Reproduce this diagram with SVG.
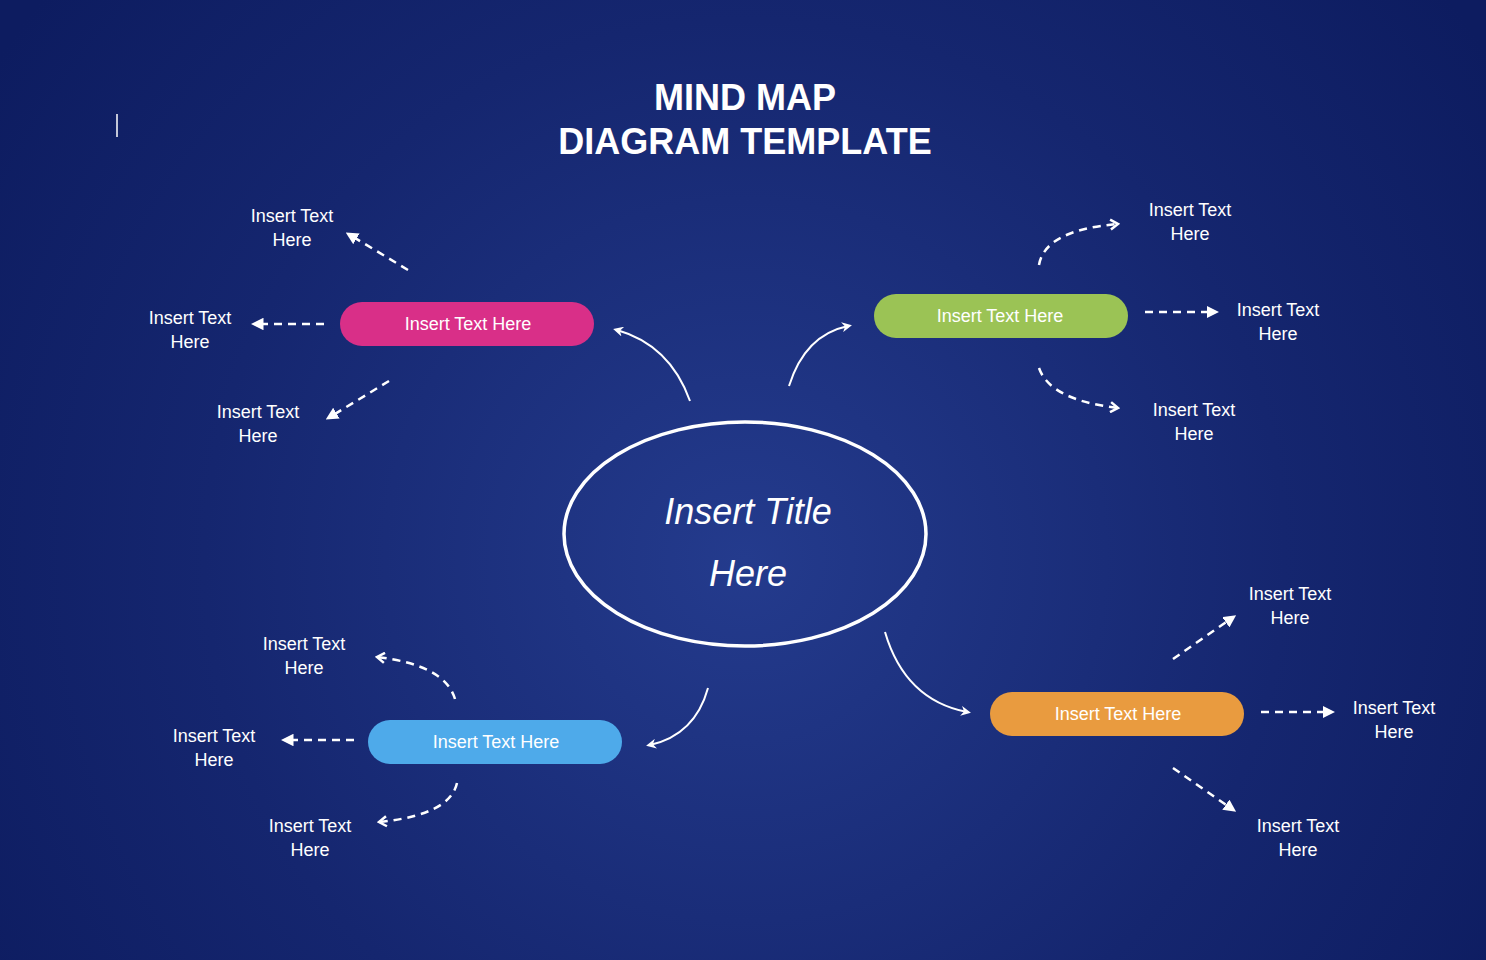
<svg xmlns="http://www.w3.org/2000/svg" width="1486" height="960" viewBox="0 0 1486 960">
<defs>
<radialGradient id="bg" cx="745" cy="560" r="900" gradientUnits="userSpaceOnUse">
<stop offset="0" stop-color="#243b8d"/><stop offset="0.6" stop-color="#15266f"/><stop offset="1" stop-color="#0d1c60"/>
</radialGradient>
<marker id="tri" viewBox="0 0 10 10" refX="6" refY="5" markerWidth="5" markerHeight="5" orient="auto" markerUnits="strokeWidth"><path d="M0,0 L10,5 L0,10 z" fill="#fff"/></marker>
<marker id="chev" viewBox="0 0 10 10" refX="8" refY="5" markerWidth="5" markerHeight="5" orient="auto" markerUnits="strokeWidth"><path d="M2,1 L8,5 L2,9" fill="none" stroke="#fff" stroke-width="2"/></marker>
<marker id="big" viewBox="0 0 10 10" refX="6" refY="5" markerWidth="5" markerHeight="5" orient="auto" markerUnits="strokeWidth"><path d="M0,0 L10,5 L0,10 L3,5 z" fill="#fff"/></marker>
</defs>
<style>
.t{font-family:"Liberation Sans",Arial,sans-serif;fill:#fff;text-anchor:middle}
.leaf{font-size:18px}
.pill{font-size:18px}
.d{fill:none;stroke:#fff;stroke-width:2.5;stroke-dasharray:8 6}
.m{fill:none;stroke:#fff;stroke-width:2}
</style>
<rect width="1486" height="960" fill="url(#bg)"/>
<line x1="117" y1="114" x2="117" y2="137" stroke="#fff" stroke-width="1.5"/>
<text class="t" x="745" y="110" font-size="36" font-weight="bold">MIND MAP</text>
<text class="t" x="745" y="154" font-size="36" font-weight="bold">DIAGRAM TEMPLATE</text>
<g id="center">
<ellipse cx="745" cy="534" rx="181" ry="112" fill="none" stroke="#fff" stroke-width="3.5"/>
<text class="t" x="748" y="524" font-size="36" font-style="italic" font-family="'DejaVu Sans',sans-serif">Insert  Title</text>
<text class="t" x="748" y="586" font-size="36" font-style="italic">Here</text>
</g>
<g id="pink"><rect x="340" y="302" width="254" height="44" rx="22" fill="#d92f88"/><text class="t pill" x="468" y="330">Insert Text Here</text></g>
<g id="green"><rect x="874" y="294" width="254" height="44" rx="22" fill="#9bc355"/><text class="t pill" x="1000" y="322">Insert Text Here</text></g>
<g id="blue"><rect x="368" y="720" width="254" height="44" rx="22" fill="#4eaaea"/><text class="t pill" x="496" y="748">Insert Text Here</text></g>
<g id="orange"><rect x="990" y="692" width="254" height="44" rx="22" fill="#e99b3f"/><text class="t pill" x="1118" y="720">Insert Text Here</text></g>
<g id="leaves" class="t leaf">
<text x="292" y="222">Insert Text</text><text x="292" y="246">Here</text>
<text x="190" y="324">Insert Text</text><text x="190" y="348">Here</text>
<text x="258" y="418">Insert Text</text><text x="258" y="442">Here</text>
<text x="1190" y="216">Insert Text</text><text x="1190" y="240">Here</text>
<text x="1278" y="316">Insert Text</text><text x="1278" y="340">Here</text>
<text x="1194" y="416">Insert Text</text><text x="1194" y="440">Here</text>
<text x="304" y="650">Insert Text</text><text x="304" y="674">Here</text>
<text x="214" y="742">Insert Text</text><text x="214" y="766">Here</text>
<text x="310" y="832">Insert Text</text><text x="310" y="856">Here</text>
<text x="1290" y="600">Insert Text</text><text x="1290" y="624">Here</text>
<text x="1394" y="714">Insert Text</text><text x="1394" y="738">Here</text>
<text x="1298" y="832">Insert Text</text><text x="1298" y="856">Here</text>
</g>
<g id="connectors">
<path class="m" d="M690,401 Q670,345 617,330" marker-end="url(#big)"/>
<path class="m" d="M789,386 Q805,335 848,326" marker-end="url(#big)"/>
<path class="m" d="M708,688 Q695,735 650,745" marker-end="url(#big)"/>
<path class="m" d="M885,632 Q905,700 967,712" marker-end="url(#big)"/>
<path class="d" d="M408,270 L350,235" marker-end="url(#tri)"/>
<path class="d" d="M324,324 L256,324" marker-end="url(#tri)"/>
<path class="d" d="M389,381 L330,417" marker-end="url(#tri)"/>
<path class="d" d="M1039,265 Q1045,230 1118,224" marker-end="url(#chev)"/>
<path class="d" d="M1145,312 L1214,312" marker-end="url(#tri)"/>
<path class="d" d="M1039,368 Q1050,400 1118,408" marker-end="url(#chev)"/>
<path class="d" d="M455,699 Q445,665 377,657" marker-end="url(#chev)"/>
<path class="d" d="M354,740 L286,740" marker-end="url(#tri)"/>
<path class="d" d="M457,783 Q450,815 379,822" marker-end="url(#chev)"/>
<path class="d" d="M1173,659 L1232,618" marker-end="url(#tri)"/>
<path class="d" d="M1261,712 L1330,712" marker-end="url(#tri)"/>
<path class="d" d="M1173,768 L1232,809" marker-end="url(#tri)"/>
</g>
</svg>
